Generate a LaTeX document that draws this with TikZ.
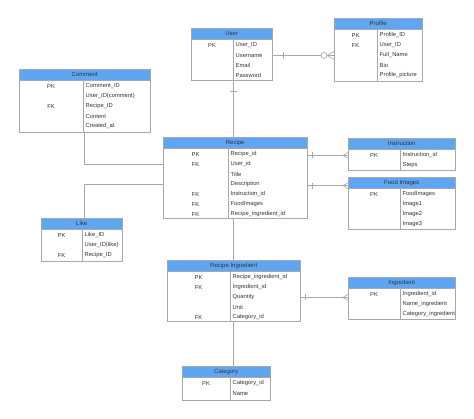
\documentclass[tikz,border=0pt]{standalone}
\usepackage{fontspec}
\setmainfont{Liberation Sans}
\usetikzlibrary{calc}
\definecolor{hdrBlue}{HTML}{5FA6F2}
\definecolor{lineGray}{HTML}{A8A8A8}
\definecolor{txtGray}{HTML}{333333}
\tikzstyle{hdr} = [rectangle, draw=lineGray, fill=hdrBlue, anchor=north west, inner sep=0pt, minimum height=11pt, text=txtGray, font=\fontsize{6}{7}\selectfont]
\tikzstyle{tbody} = [rectangle, draw=lineGray, fill=white, anchor=north west, inner sep=0pt]
\tikzstyle{keytxt} = [inner sep=0pt, text=txtGray, font=\fontsize{5.8}{7}\selectfont]
\tikzstyle{fieldtxt} = [inner sep=0pt, anchor=west, text=txtGray, font=\fontsize{5.8}{7}\selectfont]
\tikzstyle{conn} = [draw=lineGray, line width=0.6pt]

% name, left, top, width, body height, key column, title, rows
\newcommand{\erTable}[8]{%
  \node[hdr, minimum width=#4pt] (#1) at (#2,#3) {#7};
  \node[tbody, minimum width=#4pt, minimum height=#5pt] (#1-body) at (#1.south west) {};
  \draw[lineGray] ([xshift=#6pt]#1-body.north west) -- ([xshift=#6pt]#1-body.south west);
  \foreach \k/\f [count=\i] in {#8} {
    \node[keytxt] (#1-k\i) at ([xshift=#6*0.5pt, yshift={-6pt-(\i-1)*10pt}]#1-body.north west) {\k};
    \node[fieldtxt] (#1-\i) at ([xshift=#6pt+2.5pt, yshift={-6pt-(\i-1)*10pt}]#1-body.north west) {\f};
  }
}

\begin{document}
\begin{tikzpicture}[x=1pt,y=-1pt]
  \useasboundingbox[fill=white] (0,0) rectangle (474,418);

  \erTable{user}{191}{28}{81}{41}{42}{User}{PK/User\_ID, {}/Username, {}/Email, {}/Password}
  \erTable{profile}{334}{18}{88}{52}{43}{Profile}{PK/Profile\_ID, FK/User\_ID, {}/Full\_Name, {}/Bio, {}/Profile\_picture}
  \erTable{comment}{19}{69}{131}{52}{64}{Comment}{PK/Comment\_ID, {}/User\_ID(comment), FK/Recipe\_ID, {}/Content, {}/Created\_at}
  \erTable{recipe}{163}{137}{144}{70}{65}{Recipe}{PK/Recipe\_id, FK/User\_id, {}/Title, {}/Description, FK/Instruction\_id, FK/FoodImages, FK/Recipe\_ingredient\_id}
  \erTable{instr}{348}{138}{107}{21}{52}{Instruction}{PK/Instruction\_id, {}/Steps}
  \erTable{foodimg}{348}{177}{107}{41}{52}{Food Images}{PK/FoodImages, {}/Image1, {}/Image2, {}/Image3}
  \erTable{like}{41}{218}{81}{32}{41}{Like}{PK/Like\_ID, {}/User\_ID(like), FK/Recipe\_ID}
  \erTable{recing}{167}{260}{133}{50}{63}{Recipe Ingredient}{PK/Recipe\_ingredient\_id, FK/Ingredient\_id, {}/Quantity, {}/Unit, FK/Category\_id}
  \erTable{ingr}{348}{277}{107}{31}{52}{Ingredient}{PK/Ingredient\_id, {}/Name\_ingredient, {}/Category\_ingredient}
  \erTable{categ}{182}{366}{88}{23}{48}{Category}{PK/Category\_id, {}/Name}

  % user -- profile
  \coordinate (upA) at (user-body.east |- user-2);
  \coordinate (upB) at (profile-body.west |- user-2);
  \draw[conn] (upA) -- (upB);
  \draw[conn] ([xshift=11pt,yshift=3.5pt]upA) -- ([xshift=11pt,yshift=-3.5pt]upA);
  \draw[conn] ([xshift=-7pt]upB) -- ([yshift=4pt]upB);
  \draw[conn] ([xshift=-7pt]upB) -- ([yshift=-4pt]upB);
  \draw[conn, fill=white] ([xshift=-10pt]upB) circle (3pt);

  % user -- recipe
  \coordinate (urA) at ([xshift=42pt]user-body.south west);
  \draw[conn] (urA) -- (urA |- recipe.north);
  \draw[conn] ([xshift=-3.5pt,yshift=-10pt]urA) -- ([xshift=3.5pt,yshift=-10pt]urA);

  % comment, like -- recipe
  \coordinate (crA) at ([xshift=65pt]comment-body.south west);
  \draw[conn] (crA) |- (recipe-body.west |- recipe-2);
  \draw[conn] (recipe-body.west |- recipe-4) -| ([xshift=43pt]like.north west);

  % recipe -- instruction, food images
  \coordinate (riA) at (recipe-body.east |- instr-1);
  \coordinate (riB) at (instr-body.west |- instr-1);
  \coordinate (rfA) at ([yshift=-3pt]recipe-body.east |- foodimg.west);
  \coordinate (rfB) at ([yshift=-3pt]foodimg.west);
  \draw[conn] (riA) -- (riB);
  \draw[conn] (rfA) -- (rfB);
  \foreach \a/\b in {riA/riB, rfA/rfB} {
    \draw[conn] ([xshift=5pt,yshift=3pt]\a) -- ([xshift=5pt,yshift=-3pt]\a);
    \draw[conn] ([xshift=-5pt]\b) -- ([yshift=3pt]\b);
    \draw[conn] ([xshift=-5pt]\b) -- ([yshift=-3pt]\b);
  }

  % recipe -- recipe ingredient -- category
  \coordinate (rrA) at ([xshift=70pt]recipe-body.south west);
  \draw[conn] (rrA) -- (rrA |- recing.north);
  \draw[conn] (rrA |- recing-body.south) -- (rrA |- categ.north);

  % recipe ingredient -- ingredient
  \coordinate (giA) at (recing-body.east |- recing-3);
  \coordinate (giB) at (ingr-body.west |- recing-3);
  \draw[conn] (giA) -- (giB);
  \draw[conn] ([xshift=5pt,yshift=3pt]giA) -- ([xshift=5pt,yshift=-3pt]giA);
  \draw[conn] ([xshift=-5pt]giB) -- ([yshift=3pt]giB);
  \draw[conn] ([xshift=-5pt]giB) -- ([yshift=-3pt]giB);
\end{tikzpicture}
\end{document}
